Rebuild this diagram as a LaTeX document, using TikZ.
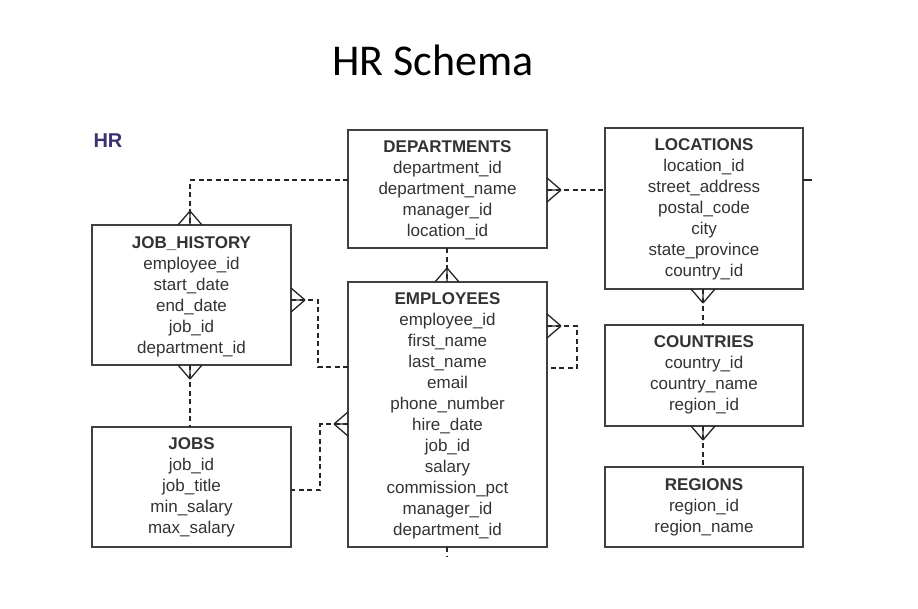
\documentclass[tikz,border=0pt]{standalone}
\usepackage{fontspec}
\setmainfont{Liberation Sans}
\newfontfamily\titlefont{Carlito}
\tikzset{
 tbl/.style={draw=black!75, line width=1.2pt, inner sep=0pt},
 txt/.style={anchor=north, align=center, font=\fontsize{17pt}{21pt}\selectfont, text=black!80, inner sep=0pt},
 rel/.style={dashed, dash pattern=on 5pt off 3.5pt, line width=1.3pt, black!85},
 ft/.style={line width=1.3pt, black!85},
 pics/crowR/.style={code={\draw[ft] (14,0)--(0,12) (14,0)--(0,-12) (14,0)--(0,0);}},
 pics/crowL/.style={code={\draw[ft] (-14,0)--(0,12) (-14,0)--(0,-12) (-14,0)--(0,0);}},
 pics/crowU/.style={code={\draw[ft] (0,-14)--(12,0) (0,-14)--(-12,0) (0,-14)--(0,0);}},
 pics/crowD/.style={code={\draw[ft] (0,14)--(12,0) (0,14)--(-12,0) (0,14)--(0,0);}},
}
\begin{document}
\begin{tikzpicture}[x=1pt,y=-1pt]
\fill[white] (0,0) rectangle (918,608);
\useasboundingbox (0,0) rectangle (918,608);
\node[font=\titlefont\fontsize{44pt}{48pt}\selectfont] (title) at (433,60) {HR Schema};
\node[font=\bfseries\fontsize{20pt}{24pt}\selectfont, text={rgb,255:red,60;green,50;blue,110}] (hr) at (108,141) {HR};
\draw[tbl] (348,130) rectangle (547,248);
\node[txt] (depT) at (447.5,140) {\textbf{DEPARTMENTS}\\department\_id\\department\_name\\manager\_id\\location\_id};
\draw[tbl] (605,128) rectangle (803,289);
\node[txt] (locT) at (704,138) {\textbf{LOCATIONS}\\location\_id\\street\_address\\postal\_code\\city\\state\_province\\country\_id};
\draw[tbl] (92,225) rectangle (291,365);
\node[txt] (jhT) at (191.5,236) {\textbf{JOB\_HISTORY}\\employee\_id\\start\_date\\end\_date\\job\_id\\department\_id};
\draw[tbl] (348,282) rectangle (547,547);
\node[txt] (empT) at (447.5,292) {\textbf{EMPLOYEES}\\employee\_id\\first\_name\\last\_name\\email\\phone\_number\\hire\_date\\job\_id\\salary\\commission\_pct\\manager\_id\\department\_id};
\draw[tbl] (92,427) rectangle (291,547);
\node[txt] (jobT) at (191.5,437) {\textbf{JOBS}\\job\_id\\job\_title\\min\_salary\\max\_salary};
\draw[tbl] (605,325) rectangle (803,426);
\node[txt] (couT) at (704,335) {\textbf{COUNTRIES}\\country\_id\\country\_name\\region\_id};
\draw[tbl] (605,467) rectangle (803,547);
\node[txt] (regT) at (704,478) {\textbf{REGIONS}\\region\_id\\region\_name};
% connectors
\draw[rel] (348,180) -| (190,225);
\pic at (190,225) {crowU};
\draw[rel] (547,190) -- (605,190);
\pic at (547,190) {crowR};
\draw[rel] (447,248) -- (447,282);
\pic at (447,282) {crowU};
\draw[rel] (291,300) -| (318,367) -- (348,367);
\pic at (291,300) {crowR};
\draw[rel] (547,326) -| (577,368) -- (547,368);
\pic at (547,326) {crowR};
\draw[rel] (348,424) -| (320,490) -- (291,490);
\pic at (348,424) {crowL};
\draw[rel] (190,365) -- (190,427);
\pic at (190,365) {crowD};
\draw[rel] (703,289) -- (703,325);
\pic at (703,289) {crowD};
\draw[rel] (703,426) -- (703,467);
\pic at (703,426) {crowD};
\draw[ft] (803,180) -- (812,180);
\draw[rel] (447,547) -- (447,556);
\end{tikzpicture}
\end{document}
